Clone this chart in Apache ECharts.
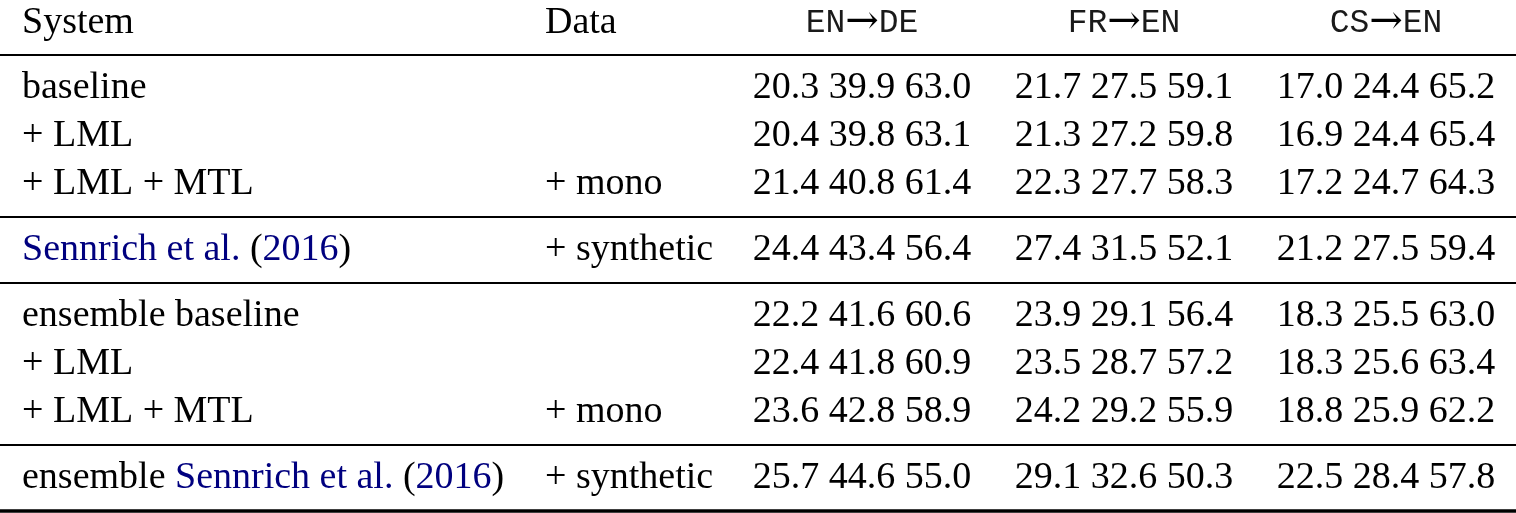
<!DOCTYPE html>
<html><head><meta charset="utf-8">
<script src="https://cdn.jsdelivr.net/npm/echarts@6/dist/echarts.min.js"></script>
<style>html,body{margin:0;padding:0;background:#fff}#c{width:1516px;height:513px}</style>
</head><body><div id="c"></div>
<script>
// ---- data ----
const headers = ['System', 'Data', 'EN→DE', 'FR→EN', 'CS→EN'];
const citation = 'Sennrich et al.';
const citationYear = '2016';
const systems = ['baseline', '+ LML', '+ LML + MTL', '{cite}',
                 'ensemble baseline', '+ LML', '+ LML + MTL', 'ensemble {cite}'];
const dataUsed = ['', '', '+ mono', '+ synthetic', '', '', '+ mono', '+ synthetic'];
const enDe = [[20.3, 39.9, 63.0], [20.4, 39.8, 63.1], [21.4, 40.8, 61.4], [24.4, 43.4, 56.4],
              [22.2, 41.6, 60.6], [22.4, 41.8, 60.9], [23.6, 42.8, 58.9], [25.7, 44.6, 55.0]];
const frEn = [[21.7, 27.5, 59.1], [21.3, 27.2, 59.8], [22.3, 27.7, 58.3], [27.4, 31.5, 52.1],
              [23.9, 29.1, 56.4], [23.5, 28.7, 57.2], [24.2, 29.2, 55.9], [29.1, 32.6, 50.3]];
const csEn = [[17.0, 24.4, 65.2], [16.9, 24.4, 65.4], [17.2, 24.7, 64.3], [21.2, 27.5, 59.4],
              [18.3, 25.5, 63.0], [18.3, 25.6, 63.4], [18.8, 25.9, 62.2], [22.5, 28.4, 57.8]];
const rulesAfterRow = [-1, 2, 3, 6, 7]; // -1 = after header row; last = bottom rule

// ---- layout (not data) ----
const W = 1516, H = 513;
const layout = {
  headerY: 23, pad: 33, pitch: 48,
  colX: [22, 545, 862, 1124, 1386],
  colAlign: ['left', 'left', 'center', 'center', 'center'],
  fontSize: 38
};
// compute row centers and rule positions on the y scale
const rowY = [];
const ruleY = [];
(function () {
  let y = layout.headerY + layout.pad - 1;
  ruleY.push(y);
  let prevRuleRow = -1;
  for (let r = 0; r < systems.length; r++) {
    if (r === prevRuleRow + 1) y += layout.pad; else y += layout.pitch;
    rowY.push(y);
    if (rulesAfterRow.indexOf(r) >= 0) {
      y += layout.pad;
      ruleY.push(y);
      prevRuleRow = r;
    }
  }
})();

const serif = '"Liberation Serif", "Times New Roman", serif';
const mono = '"Liberation Mono", "Courier New", monospace';
const linkColor = '#00007f';
const inkColor = '#000';
const fmt = a => a.map(v => v.toFixed(1)).join(' ');
const pairs = [enDe, frEn, csEn];

function cellText(r, c) {
  if (r < 0) {
    if (c < 2) return headers[c];
    const parts = headers[c].split('→');
    return '{m|' + parts[0] + '}{a|→}{m|' + parts[1] + '}';
  }
  if (c === 0) {
    return systems[r].replace('{cite}', '{l|' + citation + '} ({l|' + citationYear + '})');
  }
  if (c === 1) return dataUsed[r];
  return fmt(pairs[c - 2][r]);
}

const cells = [];
for (let r = -1; r < systems.length; r++)
  for (let c = 0; c < headers.length; c++) cells.push([r, c]);

const rich = {
  m: { fontFamily: mono, fontSize: 33, fill: '#1a1a1a' },
  a: { fontFamily: '"DejaVu Serif", serif', fontSize: 40, fill: inkColor },
  l: { fontFamily: serif, fontSize: layout.fontSize, fill: linkColor }
};

const chart = echarts.init(document.getElementById('c'), null, { renderer: 'canvas' });
chart.setOption({
  animation: false,
  backgroundColor: '#fff',
  grid: { left: 0, right: 0, top: 0, bottom: 0 },
  xAxis: { type: 'value', min: 0, max: W, show: false },
  yAxis: { type: 'value', min: 0, max: H, inverse: true, show: false },
  series: [
    {
      type: 'custom',
      name: 'rules',
      data: ruleY.map((y, i) => [i, y]),
      renderItem: function (params, api) {
        const i = api.value(0);
        const y = api.value(1);
        const p0 = api.coord([0, y]);
        const p1 = api.coord([W, y]);
        const last = i === ruleY.length - 1;
        return {
          type: 'line',
          shape: { x1: p0[0], y1: p0[1], x2: p1[0], y2: p1[1] },
          style: { stroke: '#000', lineWidth: last ? 3.5 : 1.8 }
        };
      }
    },
    {
      type: 'custom',
      name: 'cells',
      data: cells,
      renderItem: function (params, api) {
        const r = api.value(0);
        const c = api.value(1);
        const y = r < 0 ? layout.headerY : rowY[r];
        const p = api.coord([layout.colX[c], y]);
        return {
          type: 'text',
          style: {
            text: cellText(r, c),
            x: p[0], y: p[1],
            align: layout.colAlign[c],
            verticalAlign: 'middle',
            fontFamily: serif,
            fontSize: layout.fontSize,
            fill: inkColor,
            rich: rich
          }
        };
      }
    }
  ]
});
</script>
</body></html>
